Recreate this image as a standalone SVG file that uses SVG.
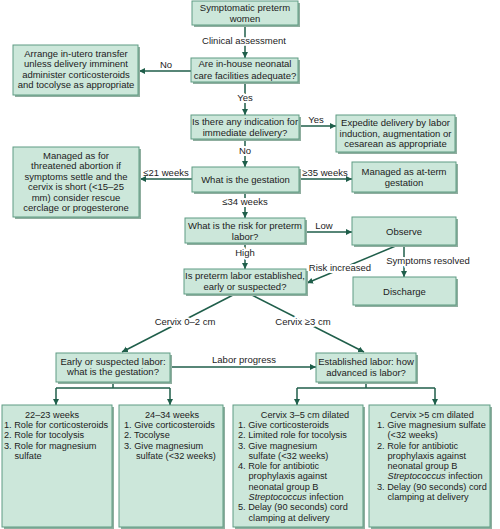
<svg xmlns="http://www.w3.org/2000/svg" width="500" height="529" viewBox="0 0 500 529">
<defs>
<marker id="ah" markerUnits="userSpaceOnUse" markerWidth="7" markerHeight="7" refX="6" refY="3" orient="auto">
<path d="M0,0 L6,3 L0,6 z" fill="#1f5e4a"/>
</marker>
</defs>
<style>
.box{fill:#cce7da;stroke:#5f9c83;stroke-width:1}
.sh{fill:#8fae9f}
text{font-family:"Liberation Sans",Arial,sans-serif;font-size:9.5px;fill:#1c1c1c}
.bt text{font-size:9.2px}
.c{text-anchor:middle}
.ln{fill:none;stroke:#1f5e4a;stroke-width:1.5}
.ar{marker-end:url(#ah)}
.lbl{paint-order:stroke;stroke:#ffffff;stroke-width:4px;stroke-linejoin:round}
.it{font-style:italic}
</style>
<rect width="500" height="529" fill="#ffffff"/>

<g id="connectors">
<line class="ln ar" x1="245" y1="25" x2="245" y2="58"/>
<line class="ln ar" x1="191" y1="71" x2="139" y2="71"/>
<line class="ln ar" x1="245" y1="82" x2="245" y2="115"/>
<line class="ln ar" x1="299" y1="126" x2="336" y2="126"/>
<line class="ln ar" x1="245" y1="139" x2="245" y2="167"/>
<line class="ln ar" x1="192" y1="179" x2="140" y2="179"/>
<line class="ln ar" x1="299" y1="179" x2="352" y2="179"/>
<line class="ln ar" x1="245" y1="192" x2="245" y2="218"/>
<line class="ln ar" x1="305" y1="232" x2="352" y2="232"/>
<line class="ln ar" x1="245" y1="243" x2="245" y2="269"/>
<line class="ln ar" x1="398" y1="245" x2="307" y2="283"/>
<line class="ln ar" x1="404" y1="245" x2="404" y2="277"/>
<line class="ln ar" x1="235" y1="294" x2="122" y2="352"/>
<line class="ln ar" x1="250" y1="294" x2="364" y2="352"/>
<line class="ln ar" x1="170" y1="367" x2="316" y2="367"/>
<polyline class="ln" points="113,382 113,388"/>
<polyline class="ln" points="56,388 170,388"/>
<line class="ln ar" x1="56" y1="388" x2="56" y2="405"/>
<line class="ln ar" x1="170" y1="388" x2="170" y2="405"/>
<polyline class="ln" points="366,382 366,388"/>
<polyline class="ln" points="297,388 435,388"/>
<line class="ln ar" x1="297" y1="388" x2="297" y2="405"/>
<line class="ln ar" x1="435" y1="388" x2="435" y2="405"/>

<text class="c lbl" x="244" y="43.5">Clinical assessment</text>
<text class="c" x="166" y="68">No</text>
<text class="c lbl" x="245" y="100.5">Yes</text>
<text class="c" x="316" y="123">Yes</text>
<text class="c lbl" x="245" y="153.5">No</text>
<text class="c" x="166" y="175.5">≤21 weeks</text>
<text class="c" x="325" y="175.5">≥35 weeks</text>
<text class="c lbl" x="245" y="204.5">≤34 weeks</text>
<text class="c" x="324" y="229">Low</text>
<text class="c lbl" x="245" y="255.5">High</text>
<text class="c lbl" x="340" y="270.5">Risk increased</text>
<text class="c lbl" x="428" y="263.5">Symptoms resolved</text>
<text class="c lbl" x="185" y="324.5">Cervix 0–2 cm</text>
<text class="c lbl" x="303" y="324.5">Cervix ≥3 cm</text>
<text class="c" x="244" y="362.5">Labor progress</text>
</g>

<g id="n-symptomatic">
<rect class="sh" x="194" y="3" width="106" height="24"/>
<rect class="box" x="192" y="1" width="106" height="24"/>
<text class="c" x="245" y="11">Symptomatic preterm</text>
<text class="c" x="245" y="22">women</text>
</g>

<g id="n-facilities">
<rect class="sh" x="193" y="60" width="107" height="24"/>
<rect class="box" x="191" y="58" width="107" height="24"/>
<text class="c" x="245" y="67">Are in-house neonatal</text>
<text class="c" x="245" y="78.5">care facilities adequate?</text>
</g>

<g id="n-transfer">
<rect class="sh" x="15" y="47" width="125" height="50"/>
<rect class="box" x="13" y="45" width="125" height="50"/>
<text class="c" x="76" y="56.5">Arrange in-utero transfer</text>
<text class="c" x="76" y="67">unless delivery imminent</text>
<text class="c" x="76" y="77.5">administer corticosteroids</text>
<text class="c" x="76" y="88">and tocolyse as appropriate</text>
</g>

<g id="n-indication">
<rect class="sh" x="193" y="117" width="108" height="24"/>
<rect class="box" x="191" y="115" width="108" height="24"/>
<text class="c" x="245" y="124.5">Is there any indication for</text>
<text class="c" x="245" y="136">immediate delivery?</text>
</g>

<g id="n-expedite">
<rect class="sh" x="338" y="117" width="119" height="37"/>
<rect class="box" x="336" y="115" width="119" height="37"/>
<text class="c" x="395.5" y="125.5">Expedite delivery by labor</text>
<text class="c" x="395.5" y="136.5">induction, augmentation or</text>
<text class="c" x="395.5" y="147">cesarean as appropriate</text>
</g>

<g id="n-gestation">
<rect class="sh" x="194" y="169" width="107" height="25"/>
<rect class="box" x="192" y="167" width="107" height="25"/>
<text class="c" x="245.5" y="182.5">What is the gestation</text>
</g>

<g id="n-abortion">
<rect class="sh" x="15" y="149" width="126" height="70"/>
<rect class="box" x="13" y="147" width="126" height="70"/>
<text class="c" x="76" y="158.5">Managed as for</text>
<text class="c" x="76" y="169">threatened abortion if</text>
<text class="c" x="76" y="179.5">symptoms settle and the</text>
<text class="c" x="76" y="190">cervix is short (&lt;15–25</text>
<text class="c" x="76" y="200.5">mm) consider rescue</text>
<text class="c" x="76" y="211">cerclage or progesterone</text>
</g>

<g id="n-atterm">
<rect class="sh" x="354" y="164" width="104" height="30"/>
<rect class="box" x="352" y="162" width="104" height="30"/>
<text class="c" x="404" y="175">Managed as at-term</text>
<text class="c" x="404" y="185.5">gestation</text>
</g>

<g id="n-risk">
<rect class="sh" x="187" y="220" width="120" height="25"/>
<rect class="box" x="185" y="218" width="120" height="25"/>
<text class="c" x="245" y="229">What is the risk for preterm</text>
<text class="c" x="245" y="240">labor?</text>
</g>

<g id="n-observe">
<rect class="sh" x="354" y="219" width="104" height="28"/>
<rect class="box" x="352" y="217" width="104" height="28"/>
<text class="c" x="404" y="234.5">Observe</text>
</g>

<g id="n-established">
<rect class="sh" x="186" y="271" width="122" height="25"/>
<rect class="box" x="184" y="269" width="122" height="25"/>
<text class="c" x="245" y="278.5">Is preterm labor established,</text>
<text class="c" x="245" y="290">early or suspected?</text>
</g>

<g id="n-discharge">
<rect class="sh" x="355" y="279" width="103" height="28"/>
<rect class="box" x="353" y="277" width="103" height="28"/>
<text class="c" x="404.5" y="294.5">Discharge</text>
</g>

<g id="n-early">
<rect class="sh" x="58" y="355" width="114" height="29"/>
<rect class="box" x="56" y="353" width="114" height="29"/>
<text class="c" x="113" y="364.5">Early or suspected labor:</text>
<text class="c" x="113" y="375">what is the gestation?</text>
</g>

<g id="n-advanced">
<rect class="sh" x="318" y="355" width="100" height="29"/>
<rect class="box" x="316" y="353" width="100" height="29"/>
<text class="c" x="366" y="365">Established labor: how</text>
<text class="c" x="366" y="376">advanced is labor?</text>
</g>

<g id="n-22-23" class="bt">
<rect class="sh" x="4" y="407" width="110" height="122"/>
<rect class="box" x="2" y="405" width="110" height="122"/>
<text class="c" x="52" y="417.5">22–23 weeks</text>
<text x="4" y="427.8">1. Role for corticosteroids</text>
<text x="4" y="438.1">2. Role for tocolysis</text>
<text x="4" y="448.5">3. Role for magnesium</text>
<text x="14.5" y="458.8">sulfate</text>
</g>

<g id="n-24-34" class="bt">
<rect class="sh" x="121" y="407" width="104" height="122"/>
<rect class="box" x="119" y="405" width="104" height="122"/>
<text class="c" x="172" y="417.5">24–34 weeks</text>
<text x="124" y="427.8">1. Give corticosteroids</text>
<text x="124" y="438.1">2. Tocolyse</text>
<text x="124" y="448.5">3. Give magnesium</text>
<text x="136" y="458.8">sulfate (&lt;32 weeks)</text>
</g>

<g id="n-3-5cm" class="bt">
<rect class="sh" x="235" y="407" width="130" height="122"/>
<rect class="box" x="233" y="405" width="130" height="122"/>
<text class="c" x="305" y="417.5">Cervix 3–5 cm dilated</text>
<text x="238" y="427.8">1. Give corticosteroids</text>
<text x="238" y="438.1">2. Limited role for tocolysis</text>
<text x="238" y="448.5">3. Give magnesium</text>
<text x="248.5" y="458.8">sulfate (&lt;32 weeks)</text>
<text x="238" y="469.1">4. Role for antibiotic</text>
<text x="248.5" y="479.4">prophylaxis against</text>
<text x="248.5" y="489.8">neonatal group B</text>
<text x="248.5" y="500.1"><tspan class="it">Streptococcus</tspan> infection</text>
<text x="238" y="510.4">5. Delay (90 seconds) cord</text>
<text x="248.5" y="520.8">clamping at delivery</text>
</g>

<g id="n-5cm" class="bt">
<rect class="sh" x="371" y="407" width="121" height="122"/>
<rect class="box" x="369" y="405" width="121" height="122"/>
<text class="c" x="432" y="417.5">Cervix &gt;5 cm dilated</text>
<text x="377" y="427.8">1. Give magnesium sulfate</text>
<text x="387.5" y="438.1">(&lt;32 weeks)</text>
<text x="377" y="448.5">2. Role for antibiotic</text>
<text x="387.5" y="458.8">prophylaxis against</text>
<text x="387.5" y="469.1">neonatal group B</text>
<text x="387.5" y="479.4"><tspan class="it">Streptococcus</tspan> infection</text>
<text x="377" y="489.8">3. Delay (90 seconds) cord</text>
<text x="387.5" y="500.1">clamping at delivery</text>
</g>
</svg>
